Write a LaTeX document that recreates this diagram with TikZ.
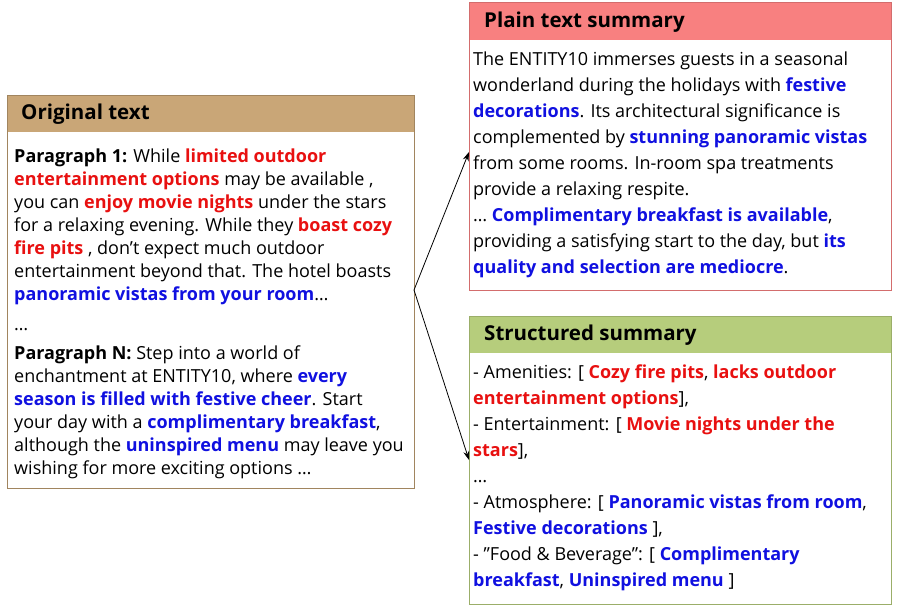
\documentclass[tikz,border=0pt]{standalone}
\usepackage{fontspec}
\usetikzlibrary{arrows.meta}
\setmainfont{Open Sans}
\definecolor{rd}{HTML}{E81010}
\definecolor{bl}{HTML}{1010E0}
\definecolor{tan}{HTML}{C9A677}
\definecolor{sal}{HTML}{F88080}
\definecolor{grn}{HTML}{B6CD7C}
\newcommand{\R}[1]{\textbf{\textcolor{rd}{#1}}}
\newcommand{\B}[1]{\textbf{\textcolor{bl}{#1}}}
\begin{document}
\begin{tikzpicture}[x=1pt,y=-1pt,
  body/.style={anchor=north west,inner sep=0pt,align=left,font=\fontsize{18}{23}\selectfont},
  bodyw/.style={anchor=north west,inner sep=0pt,align=left,font=\fontsize{18}{26}\selectfont},
  head/.style={anchor=west,inner sep=0pt,font=\fontsize{20.5}{24}\selectfont\bfseries},
  conn/.style={-{Stealth[length=9pt,width=6pt]},line width=0.8pt}]
\useasboundingbox (0,0) rectangle (899,613);
% left box
\fill[tan] (7,95) rectangle (414,132);
\draw[tan!80!black,line width=0.8pt] (7,95) rectangle (414,488);
\node[head] (h1) at (21,114) {Original text};
\node[body] (t1) at (14,149) {\textbf{Paragraph 1:} While \R{limited outdoor}\\
\R{entertainment options} may be available ,\\
you can \R{enjoy movie nights} under the stars\\
for a relaxing evening. While they \R{boast cozy}\\
\R{fire pits} , don’t expect much outdoor\\
entertainment beyond that. The hotel boasts\\
\B{panoramic vistas from your room}\ldots\\[7pt]
\ldots\\[6pt]
\textbf{Paragraph N:} Step into a world of\\
enchantment at ENTITY10, where \B{every}\\
\B{season is filled with festive cheer}. Start\\
your day with a \B{complimentary breakfast},\\
although the \B{uninspired menu} may leave you\\
wishing for more exciting options \ldots};
% top right
\fill[sal] (469,2) rectangle (891,40);
\draw[sal!85!black,line width=0.8pt] (469,2) rectangle (891,290);
\node[head] (h2) at (484,22) {Plain text summary};
\node[bodyw] (t2) at (473,52) {The ENTITY10 immerses guests in a seasonal\\
wonderland during the holidays with \B{festive}\\
\B{decorations}. Its architectural significance is\\
complemented by \B{stunning panoramic vistas}\\
from some rooms. In-room spa treatments\\
provide a relaxing respite.\\
\ldots{} \B{Complimentary breakfast is available},\\
providing a satisfying start to the day, but \B{its}\\
\B{quality and selection are mediocre}.};
% bottom right
\fill[grn] (469,316) rectangle (891,353);
\draw[grn!85!black,line width=0.8pt] (469,316) rectangle (891,604);
\node[head] (h3) at (484,335) {Structured summary};
\node[bodyw] (t3) at (473,365) {- Amenities: [ \R{Cozy fire pits}, \R{lacks outdoor}\\
\R{entertainment options}],\\
- Entertainment: [ \R{Movie nights under the}\\
\R{stars}],\\
\ldots\\
- Atmosphere: [ \B{Panoramic vistas from room},\\
\B{Festive decorations} ],\\
- ”Food \& Beverage”: [ \B{Complimentary}\\
\B{breakfast}, \B{Uninspired menu} ]};
\coordinate (o) at (414,290);
\coordinate (a) at (469,152);
\coordinate (b) at (469,460);
\draw[conn] (o) -- (a);
\draw[conn] (o) -- (b);
\end{tikzpicture}
\end{document}
